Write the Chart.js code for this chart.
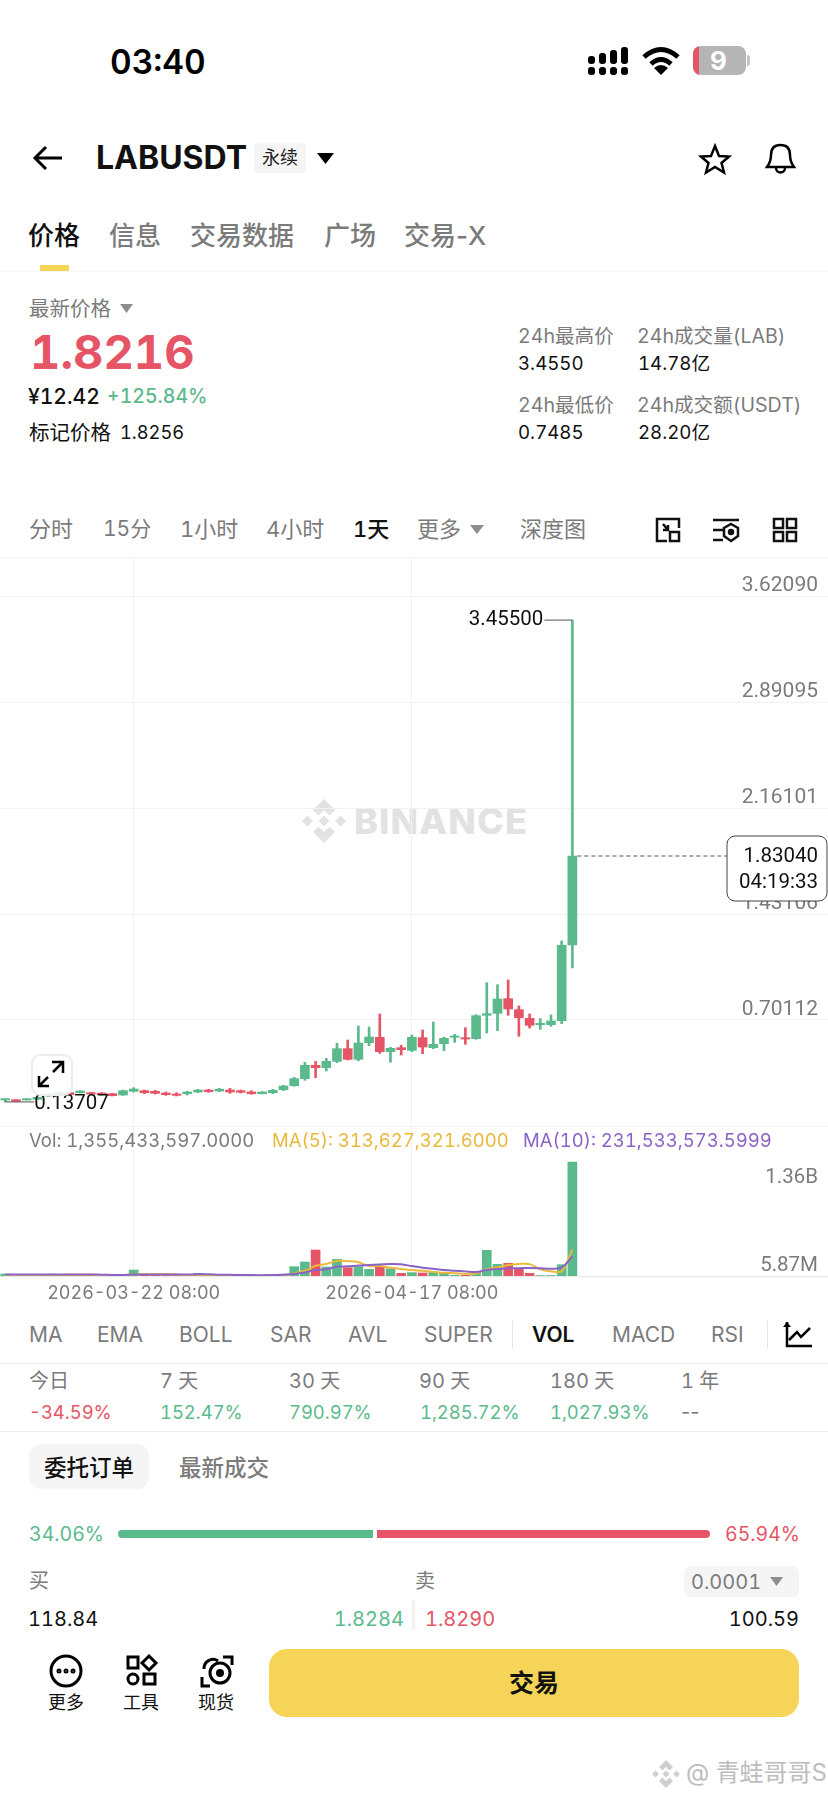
<!DOCTYPE html>
<html lang="zh-CN">
<head>
<meta charset="utf-8">
<title>LABUSDT</title>
<script src="https://cdn.jsdelivr.net/npm/chart.js@4/dist/chart.umd.min.js"></script>
<style>
  html, body { margin: 0; background: #fff; }
  body { position: relative; width: 828px; height: 1800px; overflow: hidden; font-family: Inter, "Noto Sans CJK SC", sans-serif; font-variant-numeric: tabular-nums; color: #111; }
  .t { position: absolute; white-space: nowrap; transform: translateY(-50%); line-height: 1.2; }
  .g { color: #7b7b7b; }
  .up { color: #5bba8c; }
  .down { color: #e55566; }
  .r { position: absolute; }
  .line { position: absolute; left: 0; width: 828px; height: 1px; background: #eee; }
  svg { position: absolute; overflow: visible; }
  canvas { position: absolute; left: 0; }
</style>
</head>
<body>

<!-- status bar -->
<div class="t" style="left:110px;top:62px;font-size:33.500px;font-weight:600;color:#000">03:40</div>
<svg style="left:588px;top:47px" width="40" height="28" fill="#000">
  <rect x="0" y="9" width="7" height="8" rx="3"/><rect x="11" y="6" width="7" height="11" rx="3"/><rect x="22" y="3" width="7" height="14" rx="3"/><rect x="33" y="0" width="7" height="17" rx="3"/>
  <rect x="0" y="20" width="7" height="8" rx="3"/><rect x="11" y="20" width="7" height="8" rx="3"/><rect x="22" y="20" width="7" height="8" rx="3"/><rect x="33" y="20" width="7" height="8" rx="3"/>
</svg>
<svg style="left:643px;top:47px" width="36" height="28" fill="none" stroke="#000" stroke-width="5">
  <path d="M1 10 Q18 -5 35 10"/><path d="M8 17 Q18 8 28 17"/><path d="M18 28 L11 21 Q18 15 25 21 Z" fill="#000" stroke="none"/>
</svg>
<div class="r" style="left:693px;top:46px;width:53px;height:29px;border-radius:8px;background:#b5b5b5;overflow:hidden"><div style="width:6px;height:29px;background:#e55566"></div></div>
<div class="r" style="left:747px;top:55px;width:3px;height:11px;border-radius:0 3px 3px 0;background:#c4c4c4"></div>
<div class="t" style="left:710px;top:61px;font-size:26px;font-weight:700;color:#fff">9</div>

<!-- header -->
<svg style="left:33px;top:146px" width="29" height="24" fill="none" stroke="#000" stroke-width="3"><path d="M29 12 H2 M13 1 L2 12 L13 23"/></svg>
<div class="t" style="left:96px;top:158px;font-size:32px;font-weight:700;color:#111">LABUSDT</div>
<div class="r" style="left:254px;top:143px;width:52px;height:30px;border-radius:4px;background:#f5f5f5"></div>
<div class="t" style="left:262px;top:158px;font-size:18px;color:#222">永续</div>
<svg style="left:317px;top:153px" width="17" height="11"><path d="M0 0 H17 L8.5 11 Z" fill="#000"/></svg>
<svg style="left:700px;top:145px" width="30" height="28" fill="none" stroke="#000" stroke-width="2.500"><path d="M15 1 L19 11 L29 11.500 L21.500 18 L24 27.500 L15 22 L6 27.500 L8.500 18 L1 11.500 L11 11 Z"/></svg>
<svg style="left:765px;top:143px" width="31" height="31" fill="none" stroke="#000" stroke-width="2.500"><path d="M2 24 C5 20 6 17 6 12 C6 5 10 2 15.500 2 C21 2 25 5 25 12 C25 17 26 20 29 24 Z"/><path d="M11 25 C11 31 20 31 20 25"/></svg>

<!-- tabs -->
<div class="t" style="left:28px;top:236px;font-size:26px;font-weight:500;color:#111">价格</div>
<div class="t g" style="left:109px;top:236px;font-size:26px;font-weight:500">信息</div>
<div class="t g" style="left:190px;top:236px;font-size:26px;font-weight:500">交易数据</div>
<div class="t g" style="left:324px;top:236px;font-size:26px;font-weight:500">广场</div>
<div class="t g" style="left:404px;top:236px;font-size:26px;font-weight:500;font-variant-numeric:normal">交易-X</div>
<div class="r" style="left:40px;top:265px;width:29px;height:6px;background:#f5d457"></div>
<div class="line" style="top:271px;background:#f4f4f4"></div>

<!-- price block -->
<div class="t g" style="left:29px;top:309px;font-size:20.500px">最新价格</div>
<svg style="left:120px;top:304px" width="13" height="9"><path d="M0 0 H13 L6.500 9 Z" fill="#8e8e8e"/></svg>
<div class="t down" style="left:30px;top:352px;font-size:47px;font-weight:700">1.8216</div>
<div class="t" style="left:28px;top:397px;font-size:21px;font-weight:500">¥12.42</div>
<div class="t up" style="left:107px;top:397px;font-size:19.500px;font-weight:500">+125.84%</div>
<div class="t" style="left:29px;top:433px;font-size:20.500px">标记价格</div>
<div class="t" style="left:120px;top:433px;font-size:18.300px">1.8256</div>
<div class="t g" style="left:518px;top:337px;font-size:19.600px">24h最高价</div>
<div class="t" style="left:518px;top:364px;font-size:18.700px">3.4550</div>
<div class="t g" style="left:637px;top:337px;font-size:19.600px">24h成交量(LAB)</div>
<div class="t" style="left:638px;top:364px;font-size:18.700px">14.78亿</div>
<div class="t g" style="left:518px;top:406px;font-size:19.600px">24h最低价</div>
<div class="t" style="left:518px;top:433px;font-size:18.700px">0.7485</div>
<div class="t g" style="left:637px;top:406px;font-size:19.600px">24h成交额(USDT)</div>
<div class="t" style="left:638px;top:433px;font-size:18.700px">28.20亿</div>

<!-- timeframes -->
<div class="t g" style="left:29px;top:529px;font-size:22px">分时</div>
<div class="t g" style="left:103px;top:529px;font-size:21px">15分</div>
<div class="t g" style="left:180px;top:529px;font-size:22px">1小时</div>
<div class="t g" style="left:266px;top:529px;font-size:22px">4小时</div>
<div class="t" style="left:353px;top:529px;font-size:22px;font-weight:500">1天</div>
<div class="t g" style="left:417px;top:529px;font-size:22px">更多</div>
<svg style="left:470px;top:525px" width="14" height="9"><path d="M0 0 H14 L7 9 Z" fill="#8e8e8e"/></svg>
<div class="t g" style="left:520px;top:529px;font-size:22px">深度图</div>
<svg style="left:655px;top:517px" width="26" height="26" fill="none" stroke="#111" stroke-width="2.500"><path d="M12 24 H2 V2 H24 V11"/><path d="M8 7 L13 13 M13 8 V13 H8"/><rect x="15" y="15" width="9" height="9"/></svg>
<svg style="left:713px;top:517px" width="26" height="26" fill="none" stroke="#111" stroke-width="2.500"><path d="M0 3 H26 M0 13 H10 M0 23 H10"/><path d="M18 7 L25 11 V19 L18 24 L11 19 V11 Z"/><circle cx="18" cy="15" r="2" fill="#111"/></svg>
<svg style="left:772px;top:517px" width="26" height="26" fill="none" stroke="#111" stroke-width="2.500"><rect x="2" y="2" width="9" height="9"/><rect x="15" y="2" width="9" height="9"/><rect x="2" y="15" width="9" height="9"/><rect x="15" y="15" width="9" height="9"/></svg>
<div class="line" style="top:557px;background:#f2f2f2"></div>

<!-- chart watermark, sits behind the canvas -->
<svg style="left:302px;top:799px" width="44" height="44" fill="#e2e2e2">
  <path d="M22 0 L33 11 L27.500 16.500 L22 11 L16.500 16.500 L11 11 Z"/><path d="M22 44 L33 33 L27.500 27.500 L22 33 L16.500 27.500 L11 33 Z"/>
  <path d="M5.500 16.500 L11 22 L5.500 27.500 L0 22 Z"/><path d="M38.500 16.500 L44 22 L38.500 27.500 L33 22 Z"/><path d="M22 16.500 L27.500 22 L22 27.500 L16.500 22 Z"/>
</svg>
<div class="t" style="left:354px;top:822px;font-size:36px;font-weight:800;color:#e2e2e2;letter-spacing:1.200px">BINANCE</div>

<canvas id="priceChart" width="828" height="569" style="top:558px"></canvas>
<canvas id="volChart" width="828" height="184" style="top:1126px"></canvas>

<!-- expand button over the chart -->
<div class="r" style="left:31px;top:1054px;width:38px;height:38px;border:2px solid #ececec;border-radius:9px;background:rgba(255,255,255,.8)"></div>
<svg style="left:38px;top:1061px" width="26" height="26" fill="none" stroke="#000" stroke-width="2.500"><path d="M1 25 L10 16 M1 15 V25 H11"/><path d="M25 1 L15 11 M14 1 H25 V12"/></svg>

<!-- volume legend -->
<div class="t g" style="left:29px;top:1140px;font-size:18.500px">Vol: 1,355,433,597.0000</div>
<div class="t" style="left:272px;top:1140px;font-size:18.500px;color:#eab93c">MA(5): 313,627,321.6000</div>
<div class="t" style="left:523px;top:1140px;font-size:18.500px;color:#8a63c6">MA(10): 231,533,573.5999</div>

<!-- indicator tabs -->
<div class="t g" style="left:29px;top:1335px;font-size:21px">MA</div>
<div class="t g" style="left:97px;top:1335px;font-size:21px">EMA</div>
<div class="t g" style="left:179px;top:1335px;font-size:21px">BOLL</div>
<div class="t g" style="left:270px;top:1335px;font-size:21px">SAR</div>
<div class="t g" style="left:348px;top:1335px;font-size:21px">AVL</div>
<div class="t g" style="left:424px;top:1335px;font-size:21px">SUPER</div>
<div class="r" style="left:512px;top:1321px;width:1px;height:28px;background:#e6e6e6"></div>
<div class="t" style="left:532px;top:1335px;font-size:21px;font-weight:600">VOL</div>
<div class="t g" style="left:612px;top:1335px;font-size:21px">MACD</div>
<div class="t g" style="left:711px;top:1335px;font-size:21px">RSI</div>
<div class="r" style="left:767px;top:1321px;width:1px;height:28px;background:#e6e6e6"></div>
<svg style="left:785px;top:1322px" width="27" height="26" fill="none" stroke="#000" stroke-width="2.500"><path d="M2 0 V24 H27"/><path d="M4 18 L12 10 L16 15 L25 6"/><path d="M2 0 L-2 5 H6 Z" fill="#000" stroke="none"/></svg>
<div class="line" style="top:1363px"></div>

<!-- period returns -->
<div class="t g" style="left:29px;top:1381px;font-size:20px">今日</div>
<div class="t g" style="left:160px;top:1381px;font-size:20px">7 天</div>
<div class="t g" style="left:289px;top:1381px;font-size:20px">30 天</div>
<div class="t g" style="left:419px;top:1381px;font-size:20px">90 天</div>
<div class="t g" style="left:550px;top:1381px;font-size:20px">180 天</div>
<div class="t g" style="left:681px;top:1381px;font-size:20px">1 年</div>
<div class="t down" style="left:29px;top:1412px;font-size:18.400px">-34.59%</div>
<div class="t up" style="left:160px;top:1412px;font-size:18.400px">152.47%</div>
<div class="t up" style="left:289px;top:1412px;font-size:18.400px">790.97%</div>
<div class="t up" style="left:420px;top:1412px;font-size:18.400px">1,285.72%</div>
<div class="t up" style="left:550px;top:1412px;font-size:18.400px">1,027.93%</div>
<div class="t g" style="left:681px;top:1412px;font-size:20px;font-variant-numeric:normal">--</div>
<div class="line" style="top:1431px"></div>

<!-- order book -->
<div class="r" style="left:29px;top:1444px;width:120px;height:45px;border-radius:12px;background:#f5f5f5"></div>
<div class="t" style="left:44px;top:1467px;font-size:22.500px;font-weight:500">委托订单</div>
<div class="t g" style="left:179px;top:1467px;font-size:22.500px;font-weight:500">最新成交</div>
<div class="t up" style="left:29px;top:1535px;font-size:19.500px">34.06%</div>
<div class="r" style="left:118px;top:1530px;width:255px;height:8px;border-radius:4px 0 0 4px;background:#5bba8c"></div>
<div class="r" style="left:377px;top:1530px;width:333px;height:8px;border-radius:0 4px 4px 0;background:#e55566"></div>
<div class="t down" style="left:725px;top:1535px;font-size:19.500px">65.94%</div>
<div class="t g" style="left:29px;top:1581px;font-size:20px">买</div>
<div class="t g" style="left:415px;top:1581px;font-size:20px">卖</div>
<div class="r" style="left:684px;top:1566px;width:115px;height:31px;border-radius:7px;background:#f5f5f5"></div>
<div class="t g" style="left:691px;top:1582px;font-size:20px">0.0001</div>
<svg style="left:770px;top:1577px" width="13" height="9"><path d="M0 0 H13 L6.500 9 Z" fill="#8e8e8e"/></svg>
<div class="t" style="left:28px;top:1619px;font-size:20px">118.84</div>
<div class="t up" style="right:424px;top:1619px;font-size:20px">1.8284</div>
<div class="r" style="left:412px;top:1600px;width:3px;height:30px;background:#f5f0f0"></div>
<div class="t down" style="left:425px;top:1619px;font-size:20px">1.8290</div>
<div class="t" style="right:29px;top:1619px;font-size:20px">100.59</div>

<!-- bottom bar -->
<svg style="left:49px;top:1654px" width="34" height="34" fill="none" stroke="#000" stroke-width="3"><circle cx="17" cy="17" r="15"/><circle cx="10" cy="17" r="1" /><circle cx="17" cy="17" r="1"/><circle cx="24" cy="17" r="1"/></svg>
<svg style="left:126px;top:1655px" width="31" height="31" fill="none" stroke="#000" stroke-width="3"><rect x="2" y="2" width="10" height="11"/><path d="M23 1 L30 8 L23 15 L16 8 Z"/><rect x="2" y="19" width="10" height="10" rx="5"/><rect x="18" y="19" width="11" height="10"/></svg>
<svg style="left:200px;top:1655px" width="33" height="32" fill="none" stroke="#000" stroke-width="3"><path d="M23 2 H32 V10 M10 31 H2 V22"/><path d="M4 14 A9 9 0 0 1 18 6"/><circle cx="20" cy="18" r="10"/><circle cx="20" cy="18" r="2.500" fill="#000"/></svg>
<div class="t" style="left:48px;top:1703px;font-size:18px">更多</div>
<div class="t" style="left:123px;top:1703px;font-size:18px">工具</div>
<div class="t" style="left:198px;top:1703px;font-size:18px">现货</div>
<div class="r" style="left:269px;top:1649px;width:530px;height:68px;border-radius:18px;background:#f5d457"></div>
<div class="t" style="left:509px;top:1683px;font-size:25px;font-weight:600">交易</div>

<!-- image watermark -->
<svg style="left:652px;top:1760px" width="28" height="28" fill="#cfcfcf">
  <path d="M14 0 L21 7 L17.500 10.500 L14 7 L10.500 10.500 L7 7 Z"/><path d="M14 28 L21 21 L17.500 17.500 L14 21 L10.500 17.500 L7 21 Z"/>
  <path d="M3.500 10.500 L7 14 L3.500 17.500 L0 14 Z"/><path d="M24.500 10.500 L28 14 L24.500 17.500 L21 14 Z"/><path d="M14 10.500 L17.500 14 L14 17.500 L10.500 14 Z"/>
</svg>
<div class="t" style="left:686px;top:1773px;font-size:24px;color:#bdbdbd">@ 青蛙哥哥S</div>

<script>
const UP = '#5bba8c';
const DOWN = '#e55566';
const GRID = '#f1f1f1';
const TICK_COLOR = '#7b7b7b';
const FONT = 'Inter, "Noto Sans CJK SC", sans-serif';
// canvas text has no tabular figures in Inter, Roboto has them by default
const NUM_FONT = 'Roboto, sans-serif';

const dates = ['2026-03-10','2026-03-11','2026-03-12','2026-03-13','2026-03-14','2026-03-15','2026-03-16','2026-03-17','2026-03-18','2026-03-19','2026-03-20','2026-03-21',
  '2026-03-22','2026-03-23','2026-03-24','2026-03-25','2026-03-26','2026-03-27','2026-03-28','2026-03-29','2026-03-30','2026-03-31',
  '2026-04-01','2026-04-02','2026-04-03','2026-04-04','2026-04-05','2026-04-06','2026-04-07','2026-04-08','2026-04-09','2026-04-10','2026-04-11','2026-04-12','2026-04-13','2026-04-14','2026-04-15','2026-04-16',
  '2026-04-17','2026-04-18','2026-04-19','2026-04-20','2026-04-21','2026-04-22','2026-04-23','2026-04-24','2026-04-25','2026-04-26','2026-04-27','2026-04-28','2026-04-29','2026-04-30','2026-05-01','2026-05-02'];

const opens = [.1502,.1525,.1502,.1548,.1778,.1961,.2007,.2007,.2007,.1984,.1938,.1846,.2099,.2145,.2099,.1984,.1915,.1938,.2053,.2191,.2122,.2191,.2145,.2053,.1938,.2007,.2214,
  .2489,.2971,.3890,.3729,.4165,.5037,.4303,.5450,.5818,.4831,.5106,.4922,.5795,.5106,.5382,.5818,.5795,.5726,.7332,.7470,.8480,.7723,.7126,.6690,.6690,.6965,1.2176];
const highs = [.1594,.1525,.1594,.1686,.1938,.2030,.2030,.2145,.2030,.2007,.1961,.2191,.2351,.2191,.2168,.2053,.2007,.2099,.2237,.2237,.2305,.2305,.2191,.2145,.2076,.2237,.2512,
  .3063,.4096,.4165,.4372,.5405,.5634,.6598,.6529,.7424,.5129,.5267,.5978,.6323,.6874,.5841,.6024,.6483,.7378,.9582,.9444,.9766,.7975,.7424,.7103,.7356,1.2451,3.4550];
const lows = [.13707,.1387,.1502,.1525,.1755,.1938,.1846,.1984,.1892,.1846,.1778,.1823,.2053,.1938,.1915,.1823,.1778,.1846,.2007,.2030,.2076,.1961,.1984,.1892,.1915,.1938,.2143,
  .2443,.2856,.3040,.3499,.4073,.4257,.4211,.5244,.4716,.4096,.4601,.4831,.4693,.5037,.4899,.5473,.5336,.5680,.6116,.6277,.7332,.5886,.6460,.6368,.6575,.6759,1.0592];
const closes = [.1594,.1410,.1594,.1686,.1915,.2007,.1869,.2122,.1915,.1869,.1800,.2145,.2260,.2007,.1961,.1869,.1823,.2053,.2191,.2076,.2237,.2053,.2030,.1938,.2053,.2168,.2466,
  .2971,.3890,.3729,.4165,.5037,.4303,.5427,.5841,.4831,.5060,.4968,.5818,.5152,.5336,.5749,.5909,.5703,.7310,.7447,.8457,.7769,.7172,.6644,.6782,.6942,1.2153,1.8304];

// volumes in millions
const volumes = [24,8,8,8,20,20,16,8,8,6,5,10,71,8,7,6,5,8,32,8,8,7,6,6,6,8,22,
  111,166,309,107,198,99,111,79,111,87,32,40,36,48,36,8,8,48,305,139,151,79,32,6,6,135,1355.43];
const ma5 = [12,12,12,12,14,13,14,14,14,12,9,7,20,20,21,21,19,7,12,12,12,13,12,7,7,7,10,
  31,62,122,143,178,176,165,118,119,97,84,70,61,49,38,34,27,30,81,102,130,144,141,81,57,56,313.63];
const ma10 = [18,18,18,18,18,18,18,18,17,16,13,12,18,18,19,19,18,18,20,20,16,14,12,11,10,11,16,
  24,42,71,80,111,115,124,130,137,143,139,118,99,85,71,62,55,48,71,82,91,93,95,92,87,103,231.53];

const priceTicks = [-0.02883, 0.70112, 1.43106, 2.16101, 2.89095, 3.62090];
const volTicks = [1360, 5.87];
const volTickLabels = ['1.36B', '5.87M'];
const timeTicks = [12, 38];

const highLabel = '3.45500';
const lowLabel = '0.13707';
const lastPrice = 1.8304;
const countdown = '04:19:33';

// x axis is a plain index scale so the candles keep the spacing of the app and leave the right side empty
const X_MIN = -0.495;
const X_MAX = 76.89;

function candleColor(i) {
    return closes[i] >= opens[i] ? UP : DOWN;
}

function xAxis(extra) {
    return Object.assign({
        type: 'linear',
        min: X_MIN,
        max: X_MAX,
        offset: false,
        border: { display: false },
        grid: { color: GRID, drawTicks: false, lineWidth: 1, offset: false },
        afterBuildTicks: axis => { axis.ticks = timeTicks.map(v => ({ value: v })); }
    }, extra);
}

// highest / lowest / last price markers
const pricePlugin = {
    id: 'priceMarks',
    afterDraw(chart) {
        const { ctx, scales: { x, y } } = chart;
        ctx.save();
        ctx.font = '20.5px ' + NUM_FONT;
        ctx.textBaseline = 'middle';

        const hi = highs.indexOf(Math.max(...highs));
        const lo = lows.indexOf(Math.min(...lows));
        ctx.strokeStyle = '#555';
        ctx.lineWidth = 1;
        ctx.fillStyle = '#111';
        ctx.textAlign = 'right';
        ctx.beginPath();
        ctx.moveTo(x.getPixelForValue(hi), y.getPixelForValue(highs[hi]));
        ctx.lineTo(x.getPixelForValue(hi) - 28, y.getPixelForValue(highs[hi]));
        ctx.stroke();
        ctx.fillText(highLabel, x.getPixelForValue(hi) - 29, y.getPixelForValue(highs[hi]));

        ctx.textAlign = 'left';
        ctx.beginPath();
        ctx.moveTo(x.getPixelForValue(lo), y.getPixelForValue(lows[lo]));
        ctx.lineTo(x.getPixelForValue(lo) + 29, y.getPixelForValue(lows[lo]));
        ctx.stroke();
        ctx.fillText(lowLabel, x.getPixelForValue(lo) + 29, y.getPixelForValue(lows[lo]) + 2);

        // dashed line to the last price box
        const py = y.getPixelForValue(lastPrice);
        ctx.setLineDash([4, 3]);
        ctx.beginPath();
        ctx.moveTo(x.getPixelForValue(closes.length - 1) + 5, py);
        ctx.lineTo(727, py);
        ctx.stroke();
        ctx.setLineDash([]);

        ctx.beginPath();
        ctx.roundRect(727, py - 20, 100, 65, 8);
        ctx.fillStyle = '#fff';
        ctx.fill();
        ctx.strokeStyle = '#444';
        ctx.stroke();
        ctx.fillStyle = '#111';
        ctx.textAlign = 'right';
        ctx.fillText(lastPrice.toFixed(5), 818, py + 1);
        ctx.fillText(countdown, 818, py + 27);
        ctx.restore();
    }
};

new Chart(document.getElementById('priceChart'), {
    type: 'bar',
    data: {
        datasets: [
            {
                data: highs.map((h, i) => ({ x: i, y: [lows[i], h] })),
                backgroundColor: highs.map((h, i) => candleColor(i)),
                barThickness: 2,
                grouped: false,
                order: 2
            },
            {
                data: opens.map((o, i) => ({ x: i, y: [o, closes[i]] })),
                backgroundColor: opens.map((o, i) => candleColor(i)),
                barThickness: 9,
                grouped: false,
                order: 1
            }
        ]
    },
    options: {
        responsive: false,
        animation: false,
        layout: { padding: 0 },
        plugins: { legend: { display: false }, tooltip: { enabled: false } },
        scales: {
            x: xAxis({ ticks: { display: false }, afterFit: s => { s.height = 1; } }),
            y: {
                position: 'right',
                min: -0.02883,
                max: 3.8826,
                border: { display: false },
                grid: { color: GRID, drawTicks: false },
                ticks: {
                    mirror: true,
                    padding: -10,
                    labelOffset: -10,
                    autoSkip: false,
                    color: TICK_COLOR,
                    font: { family: NUM_FONT, size: 21 },
                    callback: v => (v < 0 ? '' : v.toFixed(5))
                },
                afterBuildTicks: axis => { axis.ticks = priceTicks.map(v => ({ value: v })); },
                // labels are mirrored inside the plot, no room to reserve for them
                afterFit: s => { s.width = 0; s.paddingTop = 0; s.paddingBottom = 0; }
            }
        }
    },
    plugins: [pricePlugin]
});

// volume tick labels sit on different sides of their value, so they are placed here
const volLabelPlugin = {
    id: 'volLabels',
    afterDraw(chart) {
        const { ctx, scales: { y } } = chart;
        ctx.save();
        ctx.font = '20.5px ' + NUM_FONT;
        ctx.fillStyle = TICK_COLOR;
        ctx.textAlign = 'right';
        ctx.textBaseline = 'middle';
        ctx.fillText(volTickLabels[0], 818, y.getPixelForValue(volTicks[0]) + 16);
        ctx.fillText(volTickLabels[1], 818, y.getPixelForValue(volTicks[1]) - 10);
        ctx.restore();
    }
};

new Chart(document.getElementById('volChart'), {
    data: {
        datasets: [
            {
                type: 'line',
                data: ma10.map((v, i) => ({ x: i, y: v })),
                borderColor: '#8a63c6',
                borderWidth: 2,
                pointRadius: 0,
                tension: 0.35,
                order: 1
            },
            {
                type: 'line',
                data: ma5.map((v, i) => ({ x: i, y: v })),
                borderColor: '#eab93c',
                borderWidth: 2,
                pointRadius: 0,
                tension: 0.35,
                order: 2
            },
            {
                type: 'bar',
                data: volumes.map((v, i) => ({ x: i, y: v })),
                backgroundColor: volumes.map((v, i) => candleColor(i)),
                barThickness: 9,
                order: 3
            }
        ]
    },
    options: {
        responsive: false,
        animation: false,
        layout: { padding: 0 },
        plugins: { legend: { display: false }, tooltip: { enabled: false } },
        scales: {
            x: xAxis({
                border: { display: true, color: '#e8e8e8' },
                ticks: {
                    padding: 7,
                    maxRotation: 0,
                    autoSkip: false,
                    color: TICK_COLOR,
                    font: { family: FONT, size: 18 },
                    callback: v => dates[v] + ' 08:00'
                },
                afterFit: s => { s.height = 34; }
            }),
            y: {
                position: 'right',
                display: false,
                min: 0,
                max: 1783.4
            }
        }
    },
    plugins: [volLabelPlugin]
});
</script>
</body>
</html>
